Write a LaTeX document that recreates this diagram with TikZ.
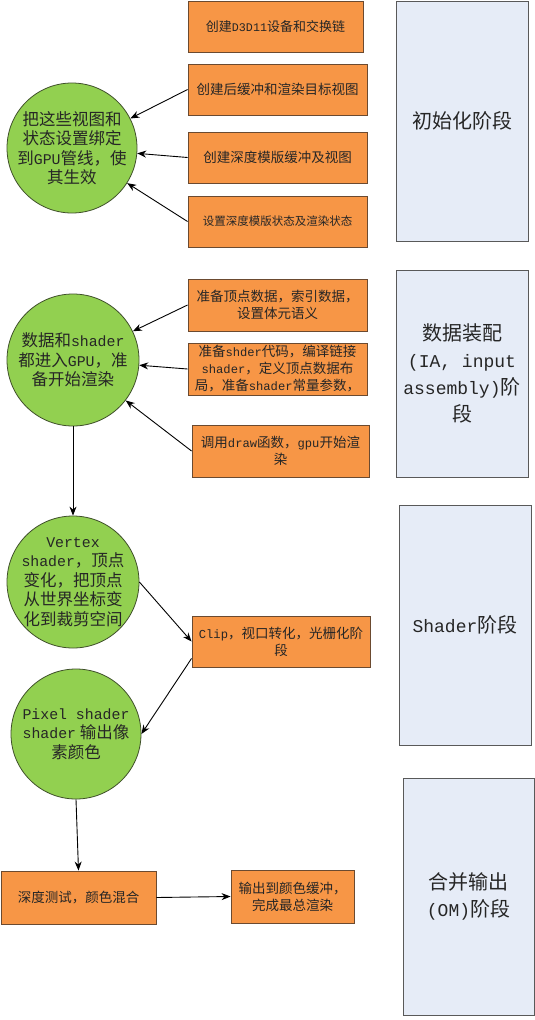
\documentclass[tikz,border=0pt]{standalone}
\usepackage{fontspec}
\newfontfamily\cjk{Noto Sans CJK SC}
\newfontfamily\monof[Scale=0.9]{Liberation Mono}
\newcommand{\lat}[1]{{\monof #1}}
\usetikzlibrary{arrows.meta}
\definecolor{boxfill}{HTML}{F79646}
\definecolor{boxedge}{HTML}{6B4A30}
\definecolor{circfill}{HTML}{92D050}
\definecolor{circedge}{HTML}{3F4F2A}
\definecolor{panelfill}{HTML}{E6ECF7}
\definecolor{paneledge}{HTML}{595959}
\definecolor{textc}{HTML}{262626}
\begin{document}
\begin{tikzpicture}[x=1pt,y=-1pt,
  orangebox/.style={draw=boxedge, fill=boxfill, line width=0.9pt, inner sep=1pt,
    align=center, text=textc, font=\cjk\fontsize{13.5}{17}\selectfont},
  greencirc/.style={circle, draw=circedge, fill=circfill, line width=0.8pt, inner sep=0pt},
  circtext/.style={align=center, text=textc, font=\cjk\fontsize{16.5}{19.5}\selectfont},
  panel/.style={draw=paneledge, fill=panelfill, line width=0.9pt, inner sep=0pt,
    align=center, text=textc, font=\cjk\fontsize{20}{27}\selectfont},
  arr/.style={-{Stealth[length=9pt,width=7pt]}, line width=0.9pt, black}]
\useasboundingbox (0,0) rectangle (535,1020);
\fill[white] (0,0) rectangle (535,1020);

% stage panels
\node[panel, minimum width=132pt, minimum height=240pt] (p1) at (462,121) {初始化阶段};
\node[panel, minimum width=132pt, minimum height=207pt] (p2) at (462,373.5)
  {数据装配\\\lat{(IA, input}\\\lat{assembly)}阶\\段};
\node[panel, minimum width=132pt, minimum height=240pt] (p3) at (465,625) {\lat{Shader}阶段};
\node[panel, minimum width=131pt, minimum height=237pt] (p4) at (468.5,896.5) {合并输出\\\lat{(OM)}阶段};

% initialisation boxes
\node[orangebox, minimum width=175pt, minimum height=51pt, font=\cjk\fontsize{13}{17}\selectfont]
  (a) at (275.5,26.5) {创建\lat{D3D11}设备和交换链};
\node[orangebox, minimum width=179pt, minimum height=51pt] (b) at (277.5,89.5) {创建后缓冲和渲染目标视图};
\node[orangebox, minimum width=179pt, minimum height=51pt] (c) at (277.5,157.5) {创建深度模版缓冲及视图};
\node[orangebox, minimum width=179pt, minimum height=51pt, font=\cjk\fontsize{11.5}{15}\selectfont]
  (d) at (277.5,221.5) {设置深度模版状态及渲染状态};

% input assembly boxes
\node[orangebox, minimum width=179pt, minimum height=52pt] (e) at (277.5,305)
  {准备顶点数据，索引数据，\\设置体元语义};
\node[orangebox, minimum width=179pt, minimum height=52pt] (f) at (277.5,369)
  {准备\lat{shder}代码，编译链接\\\lat{shader}，定义顶点数据布\\局，准备\lat{shader}常量参数，};
\node[orangebox, minimum width=177pt, minimum height=52pt] (g) at (280.5,451)
  {调用\lat{draw}函数，\lat{gpu}开始渲\\染};

% shader / output boxes
\node[orangebox, minimum width=178pt, minimum height=51pt] (h) at (281,641.5)
  {\lat{Clip}，视口转化，光栅化阶\\段};
\node[orangebox, minimum width=155pt, minimum height=53pt] (i) at (78.5,897.5) {深度测试，颜色混合};
\node[orangebox, minimum width=123pt, minimum height=53pt] (j) at (292.5,896.5)
  {输出到颜色缓冲，\\完成最总渲染};

% circles
\node[greencirc, minimum size=130pt] (c1) at (72,148) {};
\node[circtext] at (c1) {把这些视图和\\状态设置绑定\\到\lat{GPU}管线，使\\其生效};
\node[greencirc, minimum size=132pt] (c2) at (73,360) {};
\node[circtext] at (c2) {数据和\lat{shader}\\都进入\lat{GPU}，准\\备开始渲染};
\node[greencirc, minimum size=132pt] (c3) at (73,582) {};
\node[circtext] at (c3) {\lat{Vertex}\\\lat{shader}，顶点\\变化，把顶点\\从世界坐标变\\化到裁剪空间};
\node[greencirc, minimum size=130pt] (c4) at (76,734) {};
\node[circtext] at (c4) {\lat{Pixel shader}\\\lat{shader} 输出像\\素颜色};

% connectors
\draw[arr] (b.west) -- (c1);
\draw[arr] (c.west) -- (c1);
\draw[arr] (d.west) -- (c1);
\draw[arr] (e.west) -- (c2);
\draw[arr] (f.west) -- (c2);
\draw[arr] (g.west) -- (c2);
\draw[arr] (c2.south) -- (c3.north);
\draw[arr] (c3.east) -- (h.west);
\draw[arr] ([yshift=9pt]h.south west) -- (c4.east);
\draw[arr] (c4.south) -- (i.north);
\draw[arr] (i.east) -- (j.west);
\end{tikzpicture}
\end{document}
